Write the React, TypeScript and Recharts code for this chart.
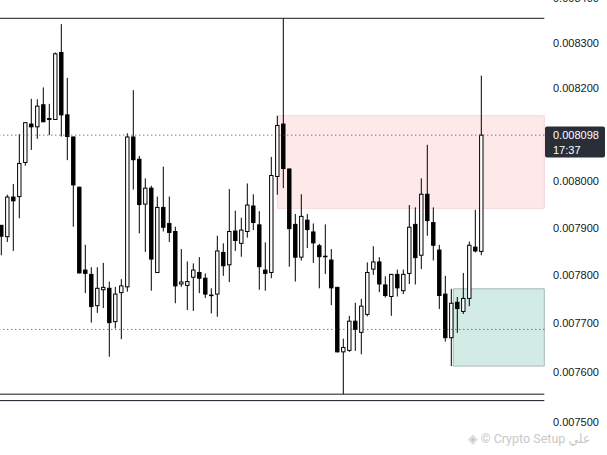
import { ComposedChart, Bar, XAxis, YAxis, ReferenceArea, ReferenceLine } from "recharts";

// prices are in millionths: 7905 -> 0.007905
const opens = [
  7905, 7881, 7965, 7966, 8039, 8122, 8116, 8164, 8134, 8132,
  8279, 8142, 8094, 7986, 7811, 7802, 7737, 7770, 7773, 7704,
  7764, 7776, 8094, 8046, 7950, 7984, 7806, 7943, 7909, 7892,
  7782, 7779, 7796, 7806, 7794, 7759, 7761, 7848, 7822, 7893,
  7867, 7892, 7946, 7906, 7811, 7806, 8009, 8122, 8025, 7907,
  7838, 7916, 7891, 7862, 7840, 7832, 7775, 7642, 7645, 7705,
  7682, 7719, 7813, 7828, 7780, 7756, 7802, 7768, 7804, 7907,
  7842, 7971, 7911, 7853, 7761, 7671, 7744, 7725, 7752, 7859,
  7850,
];
const highs = [
  7906, 7970, 7993, 8100, 8126, 8177, 8176, 8202, 8166, 8279,
  8342, 8223, 8095, 7987, 7864, 7817, 7817, 7826, 7787, 7776,
  7792, 8102, 8196, 8053, 8005, 7989, 7966, 8030, 7966, 7902,
  7855, 7829, 7825, 7838, 7804, 7773, 7883, 7867, 7982, 7936,
  7921, 7994, 7971, 7935, 7869, 8051, 8140, 8355, 8026, 7929,
  7971, 7929, 7909, 7866, 7907, 7855, 7776, 7669, 7716, 7743,
  7751, 7827, 7861, 7838, 7798, 7803, 7812, 7812, 7948, 7943,
  8005, 8077, 7943, 7864, 7799, 7772, 7755, 7805, 7871, 7938,
  8228,
];
const lows = [
  7842, 7870, 7851, 7920, 8032, 8066, 8090, 8126, 8098, 8131,
  8095, 8044, 7902, 7804, 7763, 7702, 7722, 7732, 7632, 7690,
  7668, 7766, 7981, 7888, 7849, 7768, 7805, 7892, 7870, 7742,
  7776, 7728, 7726, 7763, 7753, 7721, 7714, 7799, 7786, 7851,
  7839, 7879, 7895, 7770, 7768, 7794, 7970, 7984, 7818, 7787,
  7831, 7857, 7826, 7773, 7803, 7738, 7641, 7556, 7642, 7644,
  7637, 7715, 7801, 7765, 7754, 7716, 7756, 7761, 7782, 7781,
  7813, 7883, 7831, 7730, 7663, 7613, 7681, 7720, 7736, 7848,
  7842,
];
const closes = [
  7882, 7965, 7957, 8037, 8125, 8116, 8161, 8127, 8132, 8276,
  8142, 8095, 7991, 7805, 7804, 7735, 7773, 7775, 7702, 7761,
  7778, 8094, 8045, 7949, 7984, 7834, 7943, 7901, 7890, 7778,
  7786, 7787, 7811, 7794, 7761, 7758, 7851, 7820, 7892, 7873,
  7895, 7948, 7911, 7818, 7804, 8011, 8119, 8026, 7898, 7838,
  7924, 7896, 7868, 7839, 7839, 7774, 7642, 7651, 7705, 7688,
  7736, 7806, 7828, 7782, 7758, 7802, 7774, 7802, 7901, 7837,
  7971, 7915, 7863, 7758, 7671, 7742, 7731, 7752, 7863, 7851,
  8098,
];
const emptySlots = 10; // free space right of the last candle

// 0.008100 sits under the last-price tag, so it is not drawn
const yTicks = [0.0075, 0.0076, 0.0077, 0.0078, 0.0079, 0.008, 0.0082, 0.0083, 0.0084];

const lastPrice = 0.008098;
const lastPriceText = "0.008098";
const countdown = "17:37";

// zones: start candle, top, bottom
const supplyStart = 46;
const supplyTop = 0.00814;
const supplyBottom = 0.007941;
const demandStart = 75;
const demandTop = 0.007772;
const demandBottom = 0.007613;

const solidLevels = [0.008355, 0.007556, 0.007543];
const dottedLevels = [0.007688, lastPrice];

const watermark = "◈ © Crypto Setup علي";

const U = 1e-6;
const slots = opens.length + emptySlots;
const data = Array.from({ length: slots }, (_, i) =>
  i < opens.length
    ? { i, open: opens[i] * U, high: highs[i] * U, low: lows[i] * U, close: closes[i] * U }
    : { i },
);

const FONT = "'Liberation Sans', Arial, sans-serif";

function Candle(props: any) {
  const { x, y, width, height, payload } = props;
  if (!payload || payload.open == null) return null;
  const { open, high, low, close } = payload;
  const top = Math.min(y, y + height);
  const h = Math.abs(height);
  const cx = x + width / 2;
  const span = Math.log(high / low);
  // log axis: interpolate in log space between high and low
  const yOf = (v: number) => (span > 0 ? top + (h * Math.log(high / v)) / span : top);
  const bTop = yOf(Math.max(open, close));
  const bBot = yOf(Math.min(open, close));
  const up = close >= open;
  return (
    <g>
      <line x1={cx} x2={cx} y1={top} y2={top + h} stroke="#000" strokeWidth={1} />
      <rect
        x={cx - 1.7}
        y={bTop}
        width={3.4}
        height={Math.max(bBot - bTop, 0.6)}
        fill={up ? "#fff" : "#000"}
        stroke="#000"
        strokeWidth={1}
      />
    </g>
  );
}

function PriceTag(props: any) {
  const vb = props.viewBox ?? {};
  const y = vb.y ?? 0;
  const x = (vb.x ?? 0) + (vb.width ?? 0) + 0.7;
  return (
    <g>
      <rect x={x} y={y - 8.6} width={60} height={31} rx={2} fill="#2a2e39" />
      <text x={x + 8} y={y} dy="0.35em" fill="#fff" fontSize={11} fontFamily={FONT}>
        {lastPriceText}
      </text>
      <text x={x + 8} y={y + 14.7} dy="0.35em" fill="#fff" fontSize={11} fontFamily={FONT}>
        {countdown}
      </text>
    </g>
  );
}

export default function App() {
  return (
    <div style={{ position: "fixed", left: 0, top: 0, width: 607, height: 455, background: "#fff" }}>
      <ComposedChart
        width={607}
        height={455}
        data={data}
        margin={{ top: -1.78, right: 0, bottom: 0, left: -1.7 }}
      >
        <XAxis dataKey="i" type="category" hide />
        <XAxis xAxisId="n" type="number" domain={[-0.5, slots - 0.5]} allowDataOverflow hide />
        <YAxis
          orientation="right"
          scale="log"
          domain={[0.0074341, 0.0084]}
          allowDataOverflow
          ticks={yTicks}
          interval={0}
          width={62.7}
          axisLine={false}
          tickLine={false}
          tickSize={0}
          tickMargin={8.7}
          tick={{ fill: "#131722", fontSize: 11, fontFamily: FONT }}
          tickFormatter={(v: number) => v.toFixed(6)}
        />
        <ReferenceArea
          xAxisId="n"
          x1={supplyStart}
          y1={supplyBottom}
          y2={supplyTop}
          fill="#fde9e9"
          fillOpacity={1}
          stroke="#f6d6d6"
          strokeWidth={1}
        />
        <ReferenceArea
          xAxisId="n"
          x1={demandStart}
          y1={demandBottom}
          y2={demandTop}
          fill="#d2ebe5"
          fillOpacity={1}
          stroke="#a9bab6"
          strokeWidth={1}
        />
        {solidLevels.map((v) => (
          <ReferenceLine key={v} y={v} stroke="#131722" strokeWidth={1} />
        ))}
        {dottedLevels.map((v) => (
          <ReferenceLine key={v} y={v} stroke="#444" strokeWidth={1} strokeDasharray="1 3" />
        ))}
        <Bar
          dataKey={(d: any) => (d.low == null ? null : [d.low, d.high])}
          barSize={4}
          shape={<Candle />}
          isAnimationActive={false}
        />
        <ReferenceLine y={lastPrice} stroke="none" strokeWidth={0} label={<PriceTag />} />
      </ComposedChart>
      <div
        style={{
          position: "absolute",
          left: 468,
          top: 431,
          fontSize: 12.5,
          fontFamily: "Roboto, 'DejaVu Sans', sans-serif",
          color: "#c9c9c9",
          whiteSpace: "nowrap",
        }}
      >
        {watermark}
      </div>
    </div>
  );
}
